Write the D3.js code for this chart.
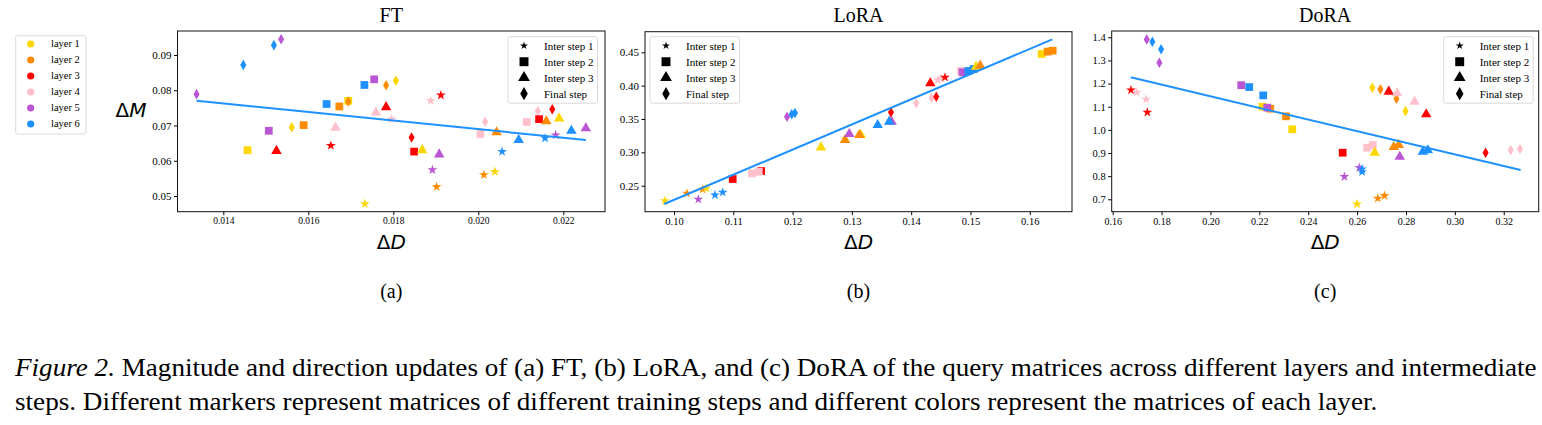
<!DOCTYPE html>
<html>
<head>
<meta charset="utf-8">
<script src="https://cdn.jsdelivr.net/npm/d3@7"></script>
<style>
body { margin: 0; background: #fff; }
text { font-family: "Liberation Serif", "Times New Roman", serif; fill: #000; }
.math { font-family: "DejaVu Sans", sans-serif; }
</style>
</head>
<body>
<svg id="fig" width="1542" height="425"></svg>
<script>
var layers = ["layer 1", "layer 2", "layer 3", "layer 4", "layer 5", "layer 6"];
var layerColors = ["#FFD700", "#FF8C00", "#FF0000", "#FFC0CB", "#BA55D3", "#1E90FF"];
var steps = ["Inter step 1", "Inter step 2", "Inter step 3", "Final step"];

// [deltaD, deltaM, layer index, step index]
var ftPoints = [
    [0.01337, 0.0789, 4, 3], [0.01447, 0.0872, 5, 3], [0.01519, 0.0928, 5, 3], [0.01536, 0.0945, 4, 3],
    [0.01643, 0.0761, 5, 1], [0.01673, 0.0754, 1, 1], [0.01694, 0.0770, 0, 1], [0.01694, 0.0768, 1, 3],
    [0.01732, 0.0815, 5, 1], [0.01755, 0.0831, 4, 1], [0.01783, 0.0814, 1, 3], [0.01806, 0.0827, 0, 3],
    [0.01783, 0.0752, 2, 2], [0.01759, 0.0737, 3, 2], [0.01796, 0.0718, 3, 0], [0.01507, 0.0685, 4, 1],
    [0.01561, 0.0695, 0, 3], [0.01589, 0.0701, 1, 1], [0.01664, 0.0694, 3, 2], [0.01457, 0.0630, 0, 1],
    [0.01525, 0.0628, 2, 2], [0.01653, 0.0643, 2, 0], [0.01843, 0.0666, 2, 3], [0.01849, 0.0626, 2, 1],
    [0.01733, 0.0478, 0, 0], [0.01868, 0.0630, 0, 2], [0.01888, 0.0770, 3, 0], [0.01912, 0.0786, 2, 0],
    [0.01908, 0.0618, 4, 2], [0.01892, 0.0574, 4, 0], [0.01902, 0.0526, 1, 0], [0.02016, 0.0711, 3, 3],
    [0.02005, 0.0676, 3, 1], [0.02043, 0.0681, 1, 2], [0.02056, 0.0626, 5, 0], [0.02013, 0.0560, 1, 0],
    [0.02039, 0.0569, 0, 0], [0.02095, 0.0659, 5, 2], [0.02114, 0.0710, 3, 1], [0.02140, 0.0741, 3, 3],
    [0.02143, 0.0718, 2, 1], [0.02160, 0.0712, 1, 2], [0.02174, 0.0746, 2, 3], [0.02190, 0.0720, 0, 2],
    [0.02157, 0.0664, 5, 0], [0.02182, 0.0673, 4, 0], [0.02219, 0.0685, 5, 2], [0.02253, 0.0692, 4, 2]
];
var ftFit = [[0.01337, 0.0770], [0.02253, 0.0659]];
var ftXTicks = [0.014, 0.016, 0.018, 0.020, 0.022];
var ftYTicks = [0.05, 0.06, 0.07, 0.08, 0.09];

var loraPoints = [
    [0.09848, 0.2274, 0, 0], [0.10219, 0.2385, 1, 0], [0.10484, 0.2445, 1, 0], [0.10540, 0.2460, 0, 0],
    [0.10410, 0.2295, 4, 0], [0.10691, 0.2360, 5, 0], [0.10821, 0.2400, 5, 0], [0.10990, 0.2600, 2, 1],
    [0.11315, 0.2685, 3, 1], [0.11470, 0.2720, 2, 1], [0.11430, 0.2710, 3, 1], [0.11906, 0.3534, 4, 3],
    [0.11985, 0.3570, 5, 3], [0.12040, 0.3590, 5, 3], [0.12479, 0.3075, 0, 2], [0.12884, 0.3184, 1, 2],
    [0.12956, 0.3275, 4, 2], [0.13150, 0.3260, 0, 2], [0.13125, 0.3260, 1, 2], [0.13435, 0.3410, 5, 2],
    [0.13670, 0.3459, 4, 2], [0.13630, 0.3460, 5, 2], [0.13659, 0.3600, 2, 3], [0.14086, 0.3735, 3, 3],
    [0.14345, 0.3820, 3, 3], [0.14423, 0.3834, 2, 3], [0.14322, 0.4035, 2, 2], [0.14447, 0.4084, 3, 0],
    [0.14503, 0.4110, 3, 0], [0.14570, 0.4125, 2, 0], [0.14840, 0.4220, 3, 1], [0.14868, 0.4200, 4, 1],
    [0.14963, 0.4220, 5, 1], [0.15054, 0.4250, 5, 1], [0.15093, 0.4284, 0, 2], [0.15165, 0.4300, 1, 2],
    [0.16200, 0.4475, 0, 1], [0.16302, 0.4510, 1, 1], [0.16386, 0.4524, 1, 1]
];
var loraFit = [[0.09836, 0.2225], [0.1638, 0.4695]];
var loraXTicks = [0.10, 0.11, 0.12, 0.13, 0.14, 0.15, 0.16];
var loraYTicks = [0.25, 0.30, 0.35, 0.40, 0.45];

var doraPoints = [
    [0.17393, 1.391, 4, 3], [0.17623, 1.381, 5, 3], [0.17980, 1.348, 5, 3], [0.17910, 1.290, 4, 3],
    [0.16750, 1.172, 2, 0], [0.16984, 1.162, 3, 0], [0.17365, 1.132, 3, 0], [0.17418, 1.076, 2, 0],
    [0.21258, 1.193, 4, 1], [0.21586, 1.185, 5, 1], [0.22160, 1.149, 5, 1], [0.22130, 1.100, 0, 1],
    [0.22447, 1.0914, 1, 1], [0.22324, 1.096, 4, 1], [0.23090, 1.0586, 1, 1], [0.23348, 1.0024, 0, 1],
    [0.25410, 0.9013, 2, 1], [0.26410, 0.923, 3, 1], [0.26640, 0.9346, 3, 1], [0.26722, 0.9013, 0, 2],
    [0.27500, 0.926, 1, 2], [0.27705, 0.9346, 1, 2], [0.27746, 0.884, 4, 2], [0.28690, 0.9056, 5, 2],
    [0.28893, 0.9116, 5, 2], [0.31258, 0.9013, 2, 3], [0.32283, 0.913, 3, 3], [0.32664, 0.9173, 3, 3],
    [0.26094, 0.8365, 4, 0], [0.26205, 0.831, 5, 0], [0.26205, 0.819, 5, 0], [0.25480, 0.7976, 4, 0],
    [0.26000, 0.6796, 0, 0], [0.26845, 0.704, 1, 0], [0.27120, 0.7155, 1, 0], [0.26627, 1.182, 0, 3],
    [0.26955, 1.175, 1, 3], [0.27295, 1.165, 2, 2], [0.27610, 1.134, 1, 3], [0.27640, 1.158, 3, 2],
    [0.28348, 1.1217, 3, 2], [0.27980, 1.081, 0, 3], [0.28828, 1.0672, 2, 2]
];
var doraFit = [[0.1674, 1.227], [0.3269, 0.8265]];
var doraXTicks = [0.16, 0.18, 0.20, 0.22, 0.24, 0.26, 0.28, 0.30, 0.32];
var doraYTicks = [0.7, 0.8, 0.9, 1.0, 1.1, 1.2, 1.3, 1.4];

var svg = d3.select("#fig");

var symbolTypes = [d3.symbolStar, d3.symbolSquare, d3.symbolTriangle, d3.symbolDiamond];
var markerSizes = [30, 60, 48, 32];
var legendSizes = [20, 80, 60, 50];

var panels = [
    { title: "FT", sub: "(a)", points: ftPoints, fit: ftFit, xTicks: ftXTicks, yTicks: ftYTicks,
      xDomain: [0.012922, 0.022981], yDomain: [0.04555, 0.09681], left: 177.5, right: 605, top: 31, bottom: 211.7,
      xFmt: ".3f", yFmt: ".2f", xFont: 9.5, yFont: 11, legendX: 508 },
    { title: "LoRA", sub: "(b)", points: loraPoints, fit: loraFit, xTicks: loraXTicks, yTicks: loraYTicks,
      xDomain: [0.09511, 0.16712], yDomain: [0.211, 0.4809], left: 645, right: 1072, top: 31.7, bottom: 211.7,
      xFmt: ".2f", yFmt: ".2f", xFont: 10.5, yFont: 11, legendX: 650 },
    { title: "DoRA", sub: "(c)", points: doraPoints, fit: doraFit, xTicks: doraXTicks, yTicks: doraYTicks,
      xDomain: [0.1596, 0.3343], yDomain: [0.6464, 1.4272], left: 1111.7, right: 1538.7, top: 31, bottom: 211.7,
      xFmt: ".2f", yFmt: ".1f", xFont: 10, yFont: 10.5, legendX: 1443.7 }
];

function drawPanel(p) {
    var x = d3.scaleLinear().domain(p.xDomain).range([p.left, p.right]);
    var y = d3.scaleLinear().domain(p.yDomain).range([p.bottom, p.top]);
    var cx = (p.left + p.right) / 2;

    var xAxis = svg.append("g")
        .attr("transform", `translate(0, ${p.bottom})`)
        .call(d3.axisBottom(x).tickValues(p.xTicks).tickFormat(d3.format(p.xFmt)).tickSize(3.5).tickPadding(2.5));
    var yAxis = svg.append("g")
        .attr("transform", `translate(${p.left}, 0)`)
        .call(d3.axisLeft(y).tickValues(p.yTicks).tickFormat(d3.format(p.yFmt)).tickSize(3.5).tickPadding(2.5));
    [xAxis, yAxis].forEach(function(a) {
        a.select(".domain").remove();
        a.selectAll("text").style("font-family", "'Liberation Serif', serif");
    });
    xAxis.selectAll("text").attr("font-size", p.xFont);
    yAxis.selectAll("text").attr("font-size", p.yFont);

    var plot = svg.append("g");
    plot.selectAll("path.pt")
        .data(p.points)
        .enter()
        .append("path")
        .attr("class", "pt")
        .attr("d", d => d3.symbol().type(symbolTypes[d[3]]).size(markerSizes[d[3]])())
        .attr("transform", d => `translate(${x(d[0])}, ${y(d[1])})`)
        .attr("fill", d => layerColors[d[2]]);

    plot.append("line")
        .attr("x1", x(p.fit[0][0])).attr("y1", y(p.fit[0][1]))
        .attr("x2", x(p.fit[1][0])).attr("y2", y(p.fit[1][1]))
        .attr("stroke", "#1E90FF")
        .attr("stroke-width", 2);

    svg.append("rect")
        .attr("x", p.left).attr("y", p.top)
        .attr("width", p.right - p.left).attr("height", p.bottom - p.top)
        .attr("fill", "none").attr("stroke", "#111").attr("stroke-width", 1);

    // step legend
    var lg = svg.append("g").attr("transform", `translate(${p.legendX}, 36.7)`);
    lg.append("rect")
        .attr("width", 89.5).attr("height", 66.5).attr("rx", 2)
        .attr("fill", "#fff").attr("fill-opacity", 0.85)
        .attr("stroke", "#d0d0d0").attr("stroke-width", 0.8);
    steps.forEach(function(s, i) {
        var ry = 9 + i * 16;
        lg.append("path")
            .attr("d", d3.symbol().type(symbolTypes[i]).size(legendSizes[i])())
            .attr("transform", `translate(16, ${ry})`)
            .attr("fill", "#000");
        lg.append("text")
            .attr("x", 36).attr("y", ry)
            .attr("dominant-baseline", "central")
            .attr("font-size", 11)
            .text(s);
    });

    svg.append("text")
        .attr("x", cx).attr("y", 22)
        .attr("text-anchor", "middle")
        .attr("font-size", 20)
        .text(p.title);

    var xl = svg.append("text")
        .attr("class", "math")
        .attr("x", cx).attr("y", 249)
        .attr("text-anchor", "middle")
        .attr("font-size", 20);
    xl.append("tspan").text("\u0394");
    xl.append("tspan").attr("font-style", "italic").text("D");

    svg.append("text")
        .attr("x", cx).attr("y", 298)
        .attr("text-anchor", "middle")
        .attr("font-size", 20)
        .text(p.sub);
}

panels.forEach(drawPanel);

// y label of the first panel
var yl = svg.append("text")
    .attr("class", "math")
    .attr("x", 131).attr("y", 117)
    .attr("text-anchor", "middle")
    .attr("font-size", 20);
yl.append("tspan").text("\u0394");
yl.append("tspan").attr("font-style", "italic").text("M");

// layer legend
var layerLegend = svg.append("g").attr("transform", "translate(15.7, 35.7)");
layerLegend.append("rect")
    .attr("width", 70.3).attr("height", 98.3).attr("rx", 2)
    .attr("fill", "#fff")
    .attr("stroke", "#d0d0d0").attr("stroke-width", 0.8);
layers.forEach(function(l, i) {
    var ry = 8.3 + i * 16;
    layerLegend.append("circle")
        .attr("cx", 15).attr("cy", ry).attr("r", 3.6)
        .attr("fill", layerColors[i]);
    layerLegend.append("text")
        .attr("x", 35.3).attr("y", ry)
        .attr("dominant-baseline", "central")
        .attr("font-size", 10.5)
        .text(l);
});

// caption: the printed caption font is narrower than Liberation Serif, so squeeze it horizontally
var capG1 = svg.append("g");
var cap1 = capG1.append("text").attr("x", 0).attr("y", 0).attr("font-size", 26);
cap1.append("tspan").attr("font-style", "italic").text("Figure 2.");
cap1.append("tspan").text(" Magnitude and direction updates of (a) FT, (b) LoRA, and (c) DoRA of the query matrices across different layers and intermediate");
var sx = 1522 / cap1.node().getComputedTextLength();
capG1.attr("transform", `translate(15, 375.5) scale(${sx}, 1)`);

svg.append("g")
    .attr("transform", `translate(15, 409.5) scale(${sx}, 1)`)
    .append("text").attr("x", 0).attr("y", 0).attr("font-size", 26)
    .text("steps. Different markers represent matrices of different training steps and different colors represent the matrices of each layer.");
</script>
</body>
</html>
